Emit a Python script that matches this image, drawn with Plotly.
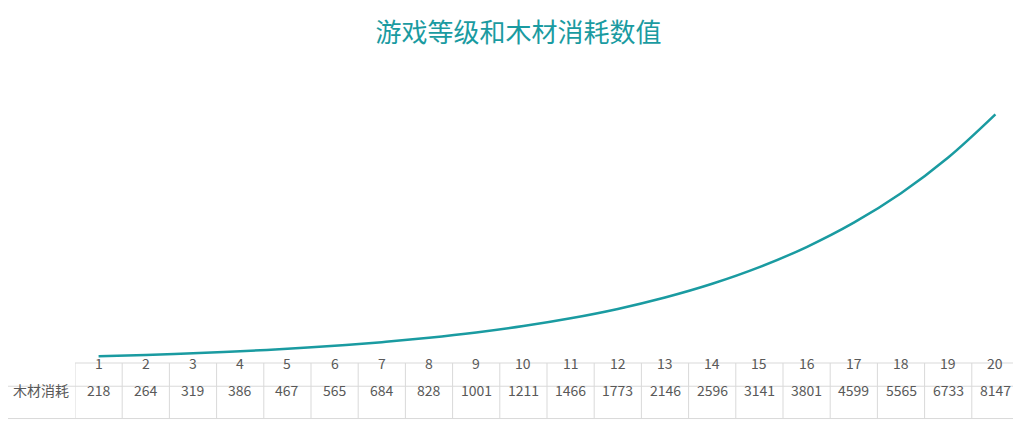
import plotly.graph_objects as go

levels = list(range(1, 21))
wood = [218, 264, 319, 386, 467, 565, 684, 828, 1001, 1211,
        1466, 1773, 2146, 2596, 3141, 3801, 4599, 5565, 6733, 8147]
series_name = "木材消耗"
title = "游戏等级和木材消耗数值"

teal = "#1a9ba1"
grid = "#d9d9d9"
font = "Noto Sans CJK SC"

fig = go.Figure(go.Scatter(x=levels, y=wood, mode="lines",
                           line=dict(color=teal, width=2.5, shape="spline"),
                           name=series_name))

H = 296.0
W = 944.0
r1 = -23 / H
r2 = -55 / H
lx = -67 / W

shapes = []
line = dict(color=grid, width=1)
# horizontal lines of the data table
for y, x0 in [(0, 0), (r1, lx), (r2, lx)]:
    shapes.append(dict(type="line", xref="paper", yref="paper", x0=x0, x1=1, y0=y, y1=y, line=line))
# vertical lines
for i in range(21):
    shapes.append(dict(type="line", xref="x", yref="paper", x0=i + 0.5, x1=i + 0.5,
                       y0=0, y1=r2, line=line))

ann = []
for lv, v in zip(levels, wood):
    ann.append(dict(x=lv, y=r1 / 2, xref="x", yref="paper", text=str(lv), showarrow=False,
                    font=dict(size=14, color="#595959")))
    ann.append(dict(x=lv, y=(r1 + r2) / 2, xref="x", yref="paper", text=str(v), showarrow=False,
                    font=dict(size=14, color="#595959")))
ann.append(dict(x=-0.004, y=(r1 + r2) / 2, xref="paper", yref="paper", xanchor="right",
                text=series_name, showarrow=False, font=dict(size=14, color="#595959")))
ann.append(dict(x=1, y=-61 / H, xref="paper", yref="paper", xanchor="right", yanchor="top",
                text="https://blog.csdn.net/HHG20171226", showarrow=False,
                font=dict(size=10, color="#cfcfcf")))

fig.update_layout(
    width=1021, height=423,
    margin=dict(l=67, r=10, t=56, b=68),
    paper_bgcolor="white", plot_bgcolor="white",
    font=dict(family=font),
    title=dict(text=title, x=0.5, xanchor="center", y=0.94, yanchor="middle",
               font=dict(size=26, color=teal, family=font)),
    xaxis=dict(range=[0.5, 20.5], visible=False),
    yaxis=dict(range=[0, 9800], visible=False),
    showlegend=False,
    shapes=shapes, annotations=ann,
)

fig.write_html("out.html")
